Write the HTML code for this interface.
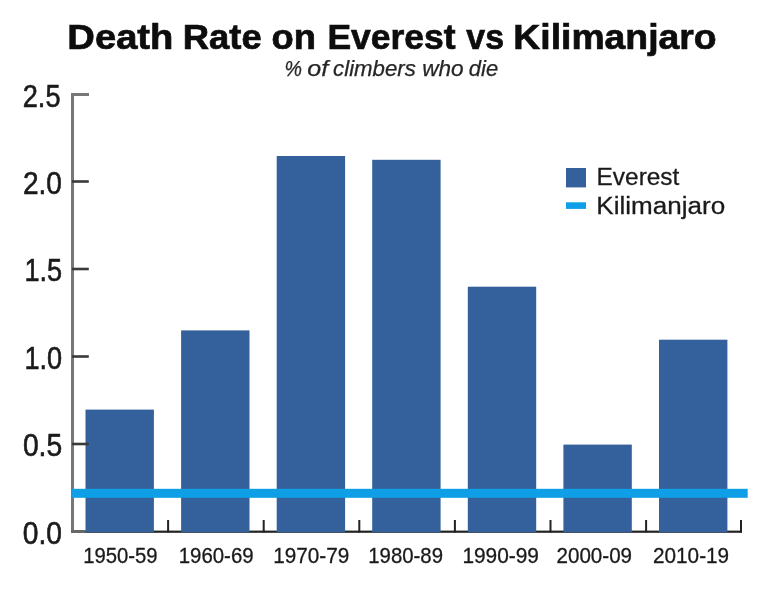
<!DOCTYPE html>
<html>
<head>
<meta charset="utf-8">
<title>Death Rate on Everest vs Kilimanjaro</title>
<style>
html,body{margin:0;padding:0;background:#fff;}
body{width:768px;height:589px;overflow:hidden;}
svg{display:block;}
text{font-family:"Liberation Sans",sans-serif;}
</style>
</head>
<body>
<svg width="768" height="589" viewBox="0 0 768 589">
<rect x="0" y="0" width="768" height="589" fill="#ffffff"/>

<!-- title -->
<g>
<text x="67.39" y="48.8" font-size="35.5" font-weight="bold" stroke="#0d0d0d" stroke-width="0.7" fill="#0d0d0d" textLength="106.02" lengthAdjust="spacingAndGlyphs">Death</text>
<text x="182.76" y="48.8" font-size="35.5" font-weight="bold" stroke="#0d0d0d" stroke-width="0.7" fill="#0d0d0d" textLength="78.93" lengthAdjust="spacingAndGlyphs">Rate</text>
<text x="271.5" y="48.8" font-size="35.5" font-weight="bold" stroke="#0d0d0d" stroke-width="0.7" fill="#0d0d0d" textLength="44.44" lengthAdjust="spacingAndGlyphs">on</text>
<text x="327.4" y="48.8" font-size="35.5" font-weight="bold" stroke="#0d0d0d" stroke-width="0.7" fill="#0d0d0d" textLength="128.3" lengthAdjust="spacingAndGlyphs">Everest</text>
<text x="466.33" y="48.8" font-size="35.5" font-weight="bold" stroke="#0d0d0d" stroke-width="0.7" fill="#0d0d0d" textLength="37.74" lengthAdjust="spacingAndGlyphs">vs</text>
<text x="513.35" y="48.8" font-size="35.5" font-weight="bold" stroke="#0d0d0d" stroke-width="0.7" fill="#0d0d0d" textLength="203.24" lengthAdjust="spacingAndGlyphs">Kilimanjaro</text>
</g>
<!-- subtitle -->
<g>
<text x="284.48" y="76.2" font-size="22.2" font-style="italic" stroke="#262626" stroke-width="0.25" fill="#262626" textLength="17.5" lengthAdjust="spacingAndGlyphs">%</text>
<text x="307.22" y="76.2" font-size="22.2" font-style="italic" stroke="#262626" stroke-width="0.25" fill="#262626" textLength="20.91" lengthAdjust="spacingAndGlyphs">of</text>
<text x="333.07" y="76.2" font-size="22.2" font-style="italic" stroke="#262626" stroke-width="0.25" fill="#262626" textLength="82.82" lengthAdjust="spacingAndGlyphs">climbers</text>
<text x="422.23" y="76.2" font-size="22.2" font-style="italic" stroke="#262626" stroke-width="0.25" fill="#262626" textLength="41.47" lengthAdjust="spacingAndGlyphs">who</text>
<text x="468.79" y="76.2" font-size="22.2" font-style="italic" stroke="#262626" stroke-width="0.25" fill="#262626" textLength="29.4" lengthAdjust="spacingAndGlyphs">die</text>
</g>

<!-- x axis line and ticks -->
<g fill="#222222">
<rect x="71" y="530.6" width="671" height="2.2"/>
<rect x="167.1" y="520" width="2" height="12.5"/>
<rect x="262.7" y="520" width="2" height="12.5"/>
<rect x="358.3" y="520" width="2" height="12.5"/>
<rect x="453.9" y="520" width="2" height="12.5"/>
<rect x="549.5" y="520" width="2" height="12.5"/>
<rect x="645.1" y="520" width="2" height="12.5"/>
<rect x="740.0" y="520" width="2" height="12.5"/>
</g>

<!-- bars: Everest -->
<g fill="#34609b">
<rect x="85.5" y="409.6" width="68.4" height="122.7"/>
<rect x="181.1" y="330.4" width="68.4" height="201.9"/>
<rect x="276.7" y="156.0" width="68.4" height="376.3"/>
<rect x="372.2" y="159.8" width="68.4" height="372.5"/>
<rect x="467.8" y="286.7" width="68.4" height="245.6"/>
<rect x="563.4" y="444.6" width="68.4" height="87.7"/>
<rect x="659.0" y="339.7" width="68.4" height="192.6"/>
</g>

<!-- y axis -->
<g fill="#777777">
<rect x="71" y="93" width="3" height="440"/>
<rect x="71" y="93" width="18" height="3"/>
<rect x="71" y="530" width="14.5" height="3" fill="#686868"/>
</g>
<g fill="#3a3a3a">
<rect x="72" y="442.7" width="16.8" height="2.6"/>
<rect x="72" y="355.2" width="16.8" height="2.6"/>
<rect x="72" y="267.7" width="16.8" height="2.6"/>
<rect x="72" y="180.2" width="16.8" height="2.6"/>
</g>

<!-- Kilimanjaro line -->
<rect x="71.5" y="488.8" width="676.2" height="9" fill="#0f9fe6"/>

<!-- y labels -->
<g>
<text x="22.79" y="106.7" font-size="30.5" stroke="#1a1a1a" stroke-width="0.6" fill="#1a1a1a" textLength="37.71" lengthAdjust="spacingAndGlyphs">2.5</text>
<text x="22.99" y="194.1" font-size="30.5" stroke="#1a1a1a" stroke-width="0.6" fill="#1a1a1a" textLength="38.99" lengthAdjust="spacingAndGlyphs">2.0</text>
<text x="24.41" y="281.4" font-size="30.5" stroke="#1a1a1a" stroke-width="0.6" fill="#1a1a1a" textLength="37.7" lengthAdjust="spacingAndGlyphs">1.5</text>
<text x="24.39" y="368.7" font-size="30.5" stroke="#1a1a1a" stroke-width="0.6" fill="#1a1a1a" textLength="37.67" lengthAdjust="spacingAndGlyphs">1.0</text>
<text x="22.9" y="456.2" font-size="30.5" stroke="#1a1a1a" stroke-width="0.6" fill="#1a1a1a" textLength="39.27" lengthAdjust="spacingAndGlyphs">0.5</text>
<text x="22.79" y="543.9" font-size="30.5" stroke="#1a1a1a" stroke-width="0.6" fill="#1a1a1a" textLength="39.2" lengthAdjust="spacingAndGlyphs">0.0</text>
</g>

<!-- x labels -->
<g>
<text x="83.18" y="562.8" font-size="21.7" stroke="#1a1a1a" stroke-width="0.3" fill="#1a1a1a" textLength="74.38" lengthAdjust="spacingAndGlyphs">1950-59</text>
<text x="178.68" y="562.8" font-size="21.7" stroke="#1a1a1a" stroke-width="0.3" fill="#1a1a1a" textLength="74.91" lengthAdjust="spacingAndGlyphs">1960-69</text>
<text x="273.27" y="562.8" font-size="21.7" stroke="#1a1a1a" stroke-width="0.3" fill="#1a1a1a" textLength="75.98" lengthAdjust="spacingAndGlyphs">1970-79</text>
<text x="368.3" y="562.8" font-size="21.7" stroke="#1a1a1a" stroke-width="0.3" fill="#1a1a1a" textLength="74.69" lengthAdjust="spacingAndGlyphs">1980-89</text>
<text x="462.39" y="562.8" font-size="21.7" stroke="#1a1a1a" stroke-width="0.3" fill="#1a1a1a" textLength="76.56" lengthAdjust="spacingAndGlyphs">1990-99</text>
<text x="556.5" y="562.8" font-size="21.7" stroke="#1a1a1a" stroke-width="0.3" fill="#1a1a1a" textLength="75.57" lengthAdjust="spacingAndGlyphs">2000-09</text>
<text x="653.01" y="562.8" font-size="21.7" stroke="#1a1a1a" stroke-width="0.3" fill="#1a1a1a" textLength="76.12" lengthAdjust="spacingAndGlyphs">2010-19</text>
</g>

<!-- legend -->
<rect x="566" y="168" width="20" height="19.4" fill="#34609b"/>
<rect x="566" y="202.3" width="20" height="6.6" fill="#0f9fe6"/>
<g>
<text x="596.6" y="184.5" font-size="24.7" stroke="#1a1a1a" stroke-width="0.3" fill="#1a1a1a" textLength="82.74" lengthAdjust="spacingAndGlyphs">Everest</text>
<text x="596.39" y="213.7" font-size="24.7" stroke="#1a1a1a" stroke-width="0.3" fill="#1a1a1a" textLength="128.82" lengthAdjust="spacingAndGlyphs">Kilimanjaro</text>
</g>
</svg>
</body>
</html>
